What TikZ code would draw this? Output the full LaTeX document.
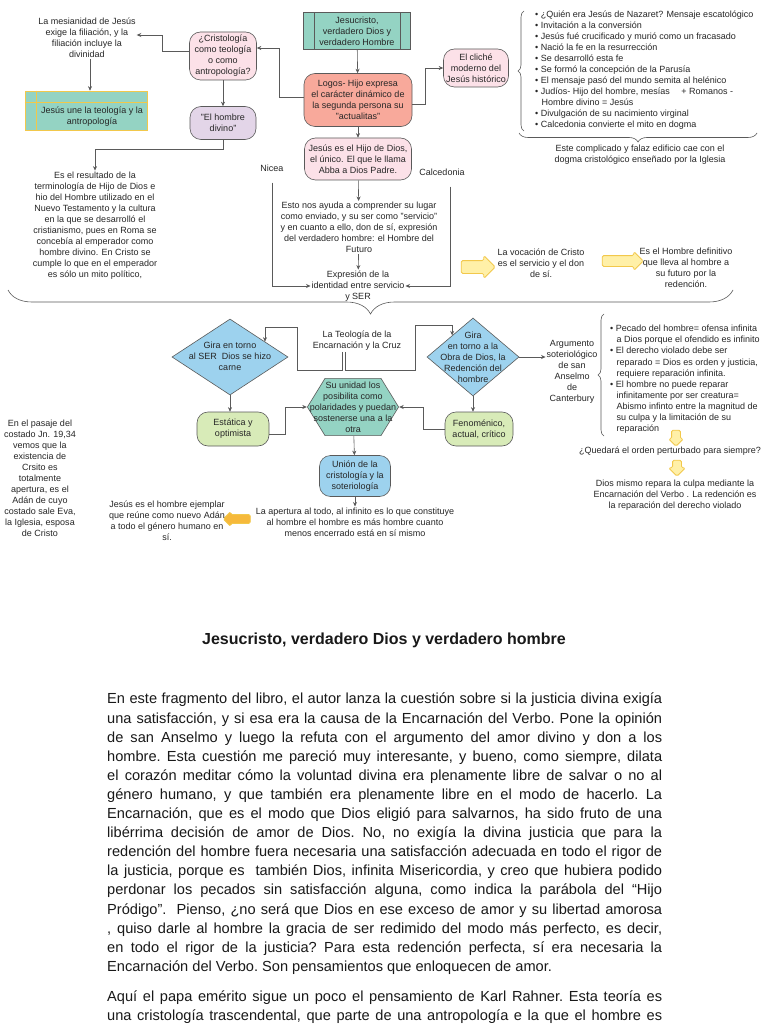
\documentclass[tikz,border=0pt]{standalone}
\usepackage{fontspec}
\setmainfont{Liberation Sans}
\usetikzlibrary{positioning,calc,shapes.geometric,shapes.arrows,arrows.meta,decorations.pathreplacing}

\definecolor{tealbox}{HTML}{94D3C3}
\definecolor{pinkbox}{HTML}{FCE1E8}
\definecolor{salmonbox}{HTML}{F8A99B}
\definecolor{lilacbox}{HTML}{E3D5E8}
\definecolor{bluebox}{HTML}{9DD2EE}
\definecolor{greenbox}{HTML}{D8EBB8}
\definecolor{yelfill}{HTML}{FFF0A8}
\definecolor{yeldraw}{HTML}{F2C84B}
\definecolor{orfill}{HTML}{F6B93B}
\definecolor{linegray}{HTML}{5A5A5A}

\tikzset{
  box/.style={draw=linegray, line width=0.6pt, align=center, inner sep=1pt},
  roundbox/.style={box, rounded corners=11pt},
  txt/.style={align=center, inner sep=1pt},
  conn/.style={draw=linegray, line width=0.6pt, -{Stealth[length=4.5pt,width=4pt]}},
  yarrow/.style={single arrow, draw=yeldraw, fill=yelfill, line width=0.8pt,
    rounded corners=1.5pt},
  bracedraw/.style={draw=linegray, line width=0.6pt, decorate},
  hexbox/.style={align=center, inner sep=0pt, fill=white,
    path picture={\draw[linegray, line width=0.6pt, fill=tealbox]
      ([xshift=0.4pt]path picture bounding box.west)
      -- ([xshift=18pt,yshift=-0.4pt]path picture bounding box.north west)
      -- ([xshift=-18pt,yshift=-0.4pt]path picture bounding box.north east)
      -- ([xshift=-0.4pt]path picture bounding box.east)
      -- ([xshift=-18pt,yshift=0.4pt]path picture bounding box.south east)
      -- ([xshift=18pt,yshift=0.4pt]path picture bounding box.south west) -- cycle;}}
}

\newcommand\jl[1]{\hbox to 555pt{#1}}
\newcommand\bul{\textbullet\ }
\newcommand\cont{\hspace*{6.3pt}}

\begin{document}
\begin{tikzpicture}[x=1pt, y=1pt, every node/.style={font=\fontsize{9}{11}\selectfont, text=black!85}]
\useasboundingbox[fill=white] (0,0) rectangle (768,-1024);

% upper map
\node[box, fill=tealbox, minimum width=107pt, minimum height=37pt] (jc) at (357,-31) {Jesucristo,\\verdadero Dios y\\verdadero Hombre};
\draw[linegray, line width=0.6pt] ([xshift=11pt]jc.north west) -- ([xshift=11pt]jc.south west)
  ([xshift=-11pt]jc.north east) -- ([xshift=-11pt]jc.south east);
\node[roundbox, fill=salmonbox, minimum width=108pt, minimum height=53pt] (logos) at (358,-100) {Logos- Hijo expresa\\el carácter dinámico de\\la segunda persona su\\"actualitas"};
\node[roundbox, fill=pinkbox, minimum width=107pt, minimum height=42pt] (hijo) at (358,-159) {Jesús es el Hijo de Dios,\\el único. El que le llama\\Abba a Dios Padre.};
\node[roundbox, fill=pinkbox, minimum width=65pt, minimum height=38pt] (cliche) at (476,-68) {El cliché\\moderno del\\Jesús histórico};
\node[roundbox, fill=pinkbox, minimum width=67pt, minimum height=48pt] (cristo) at (223,-56) {¿Cristología\\como teología\\o como\\antropología?};
\node[roundbox, fill=lilacbox, minimum width=66pt, minimum height=33pt] (divino) at (223,-123) {"El hombre\\divino"};
\node[txt] (mesian) at (87,-38) {La mesianidad de Jesús\\exige la filiación, y la\\filiación incluye la\\divinidad};
\node[box, draw=yeldraw, fill=tealbox, minimum width=122pt, minimum height=39pt] (une) at (86,-110.5) {};
\draw[yeldraw, line width=0.6pt] ([yshift=-12pt]une.north west) -- ([yshift=-12pt]une.north east)
  ([xshift=12pt]une.north west) -- ([xshift=12pt]une.south west);
\node[txt] (une-t) at (92,-116.5) {Jesús une la teología y la\\antropología};
\node[txt] (result) at (95,-225.5) {Es el resultado de la\\terminología de Hijo de Dios e\\hio del Hombre utilizado en el\\Nuevo Testamento y la cultura\\en la que se desarrolló el\\cristianismo, pues en Roma se\\concebía al emperador como\\hombre divino. En Cristo se\\cumple lo que en el emperador\\es sólo un mito político,};
\node[txt] (nicea) at (272,-168) {Nicea};
\node[txt] (calc) at (442,-172) {Calcedonia};
\node[txt] (esto) at (359,-227.5) {Esto nos ayuda a comprender su lugar\\como enviado, y su ser como "servicio"\\y en cuanto a ello, don de sí, expresión\\del verdadero hombre: el Hombre del\\Futuro};
\node[txt] (expr) at (358,-286) {Expresión de la\\identidad entre servicio\\y SER};

\draw[conn] (jc) -- (logos);
\draw[conn] (logos) -- (hijo);
\draw[conn] ([yshift=-4pt]logos.east) -- ++(13,0) |- (cliche.west);
\draw[conn] ([yshift=3pt]logos.west) -- ++(-24,0) |- ([yshift=8pt]cristo.east);
\draw[conn] ([yshift=5pt]cristo.west) -- ++(-27,0) |- ([yshift=3pt]mesian.east);
\draw[conn] ([xshift=3pt]mesian.south) -- ([xshift=3pt]mesian.south |- une.north);
\draw[conn] (cristo) -- (divino);
\draw[conn] (divino.south) -- ++(0,-10) -| (result.north);
\draw[conn] (hijo) -- (esto);
\draw[conn] (esto) -- (expr);
\draw[conn] ([yshift=-10pt]nicea.south) |- (expr.west);
\draw[conn] ([xshift=8pt,yshift=-10pt]calc.south) |- (expr.east);

% list on the right
\node[anchor=north west, align=left, inner sep=0pt, font=\fontsize{9}{11}\selectfont] (lista) at (535,-11) {\bul ¿Quién era Jesús de Nazaret? Mensaje escatológico\\\bul Invitación a la conversión\\\bul Jesús fué crucificado y murió como un fracasado\\\bul Nació la fe en la resurrección\\\bul Se desarrolló esta fe\\\bul Se formó la concepción de la Parusía\\\bul El mensaje pasó del mundo semita al helénico\\\bul Judíos- Hijo del hombre, mesías \quad + Romanos -\\\cont Hombre divino = Jesús\\\bul Divulgación de su nacimiento virginal\\\bul Calcedonia convierte el mito en dogma};
\draw[bracedraw, decoration={brace, amplitude=6pt}] (524,-131) -- (524,-11);
\draw[bracedraw, decoration={brace, amplitude=9pt}] (757,-133) -- (519,-133);
\node[txt] (falaz) at (640,-155) {Este complicado y falaz edificio cae con el\\dogma cristológico enseñado por la Iglesia};

% middle band
\node[yarrow, minimum height=34pt, inner sep=6pt, single arrow head extend=5pt] (ya1) at (475,-267) {};
\node[txt] (voc) at (541,-263) {La vocación de Cristo\\es el servicio y el don\\de sí.};
\node[yarrow, minimum height=41pt, inner sep=5pt, single arrow head extend=4pt] (ya2) at (620,-261) {};
\node[txt] (defin) at (686,-267.5) {Es el Hombre definitivo\\que lleva al hombre a\\su futuro por la\\redención.};
\draw[bracedraw, decoration={brace, amplitude=24pt}] (733,-290) -- (8,-290);

% lower map
\node[txt] (teocruz) at (357,-341) {La Teología de la\\Encarnación y la Cruz};
\node[diamond, draw=linegray, line width=0.6pt, fill=bluebox, minimum width=116pt, minimum height=76pt, inner sep=0pt] (sera) at (230,-357) {};
\node[txt] (sera-t) at (230,-356) {Gira en torno\\al SER \ Dios se hizo\\carne};
\node[diamond, draw=linegray, line width=0.6pt, fill=bluebox, minimum width=92pt, minimum height=78pt, inner sep=0pt] (obra) at (473,-357) {};
\node[txt] (obra-t) at (473,-357) {Gira\\en torno a la\\Obra de Dios, la\\Redención del\\hombre};
\coordinate (sera-in) at ($(sera.north)!0.6!(sera.east)$);
\coordinate (obra-in) at ($(obra.north)!0.45!(obra.west)$);
\draw[conn] ([xshift=-15pt]teocruz.south) |- (297,-370) |- (sera-in |- 0,-327) -- (sera-in);
\draw[conn] ([xshift=-12pt]teocruz.south) |- (415,-370) |- (obra-in |- 0,-325) -- (obra-in);

\node[txt] (argum) at (572,-372) {Argumento\\soteriológico\\de san\\Anselmo\\de\\Canterbury};
\draw[conn] (obra.east) -- (obra.east -| argum.west);
\draw[bracedraw, decoration={brace, amplitude=6pt}] (604,-436) -- (604,-314);
\node[anchor=north west, align=left, inner sep=0pt, font=\fontsize{9}{11.1}\selectfont] (lista2) at (610,-325) {\bul Pecado del hombre= ofensa infinita\\\cont a Dios porque el ofendido es infinito\\\bul El derecho violado debe ser\\\cont reparado = Dios es orden y justicia,\\\cont requiere reparación infinita.\\\bul El hombre no puede reparar\\\cont infinitamente por ser creatura=\\\cont Abismo infinto entre la magnitud de\\\cont su culpa y la limitación de su\\\cont reparación};
\node[yarrow, shape border rotate=270, minimum height=16pt, inner sep=4pt, single arrow head extend=3pt] (yd1) at (676,-436) {};
\node[txt] (quedara) at (670,-451) {¿Quedará el orden perturbado para siempre?};
\node[yarrow, shape border rotate=270, minimum height=16pt, inner sep=4pt, single arrow head extend=4pt] (yd2) at (677,-466) {};
\node[txt] (diosm) at (675,-495) {Dios mismo repara la culpa mediante la\\Encarnación del Verbo . La redención es\\la reparación del derecho violado};

\node[hexbox, minimum width=92pt, minimum height=58pt] (unidad) at (353,-407) {Su unidad los\\posibilita como\\polaridades y puedan\\sostenerse una a la\\otra};
\node[roundbox, fill=greenbox, minimum width=72pt, minimum height=34pt] (estat) at (233,-429) {Estática y\\optimista};
\node[roundbox, fill=greenbox, minimum width=68pt, minimum height=34pt] (fenom) at (479,-429) {Fenoménico,\\actual, crítico};
\node[roundbox, fill=bluebox, minimum width=71pt, minimum height=41pt] (union) at (355,-476) {Unión de la\\cristología y la\\soteriología};
\node[txt] (apert) at (355,-522) {La apertura al todo, al infinito es lo que constituye\\al hombre el hombre es más hombre cuanto\\menos encerrado está en sí mismo};
\node[yarrow, shape border rotate=180, fill=orfill, minimum height=27pt, inner sep=4pt, single arrow head extend=3pt] (yleft) at (239,-519) {};
\node[txt] (ejempl) at (167,-520.5) {Jesús es el hombre ejemplar\\que reúne como nuevo Adán\\a todo el género humano en\\sí.};
\node[txt] (pasaje) at (40,-478.5) {En el pasaje del\\costado Jn. 19,34\\vemos que la\\existencia de\\Crsito es\\totalmente\\apertura, es el\\Adán de cuyo\\costado sale Eva,\\la Iglesia, esposa\\de Cristo};

\draw[conn] (sera.south) -- (sera.south |- estat.north);
\draw[conn] (obra.south) -- (obra.south |- fenom.north);
\draw[conn] ([yshift=-5pt]estat.east) -- ++(16,0) |- (unidad.west);
\draw[conn] (fenom.west) -- ++(-21,0) |- (unidad.east);
\draw[conn] (unidad) -- (union);
\draw[conn] (union) -- (apert);

% page text
\node[font=\fontsize{16}{19}\selectfont\bfseries, text=black!90] (titulo) at (384,-640) {Jesucristo, verdadero Dios y verdadero hombre};
\node[anchor=north west, inner sep=0pt, font=\fontsize{14.6}{19.1}\selectfont\frenchspacing, text=black!90] (parr) at (107,-693) {\vbox{\baselineskip=19.1pt
\jl{En este fragmento del libro, el autor lanza la cuestión sobre si la justicia divina exigía}
\jl{una satisfacción, y si esa era la causa de la Encarnación del Verbo. Pone la opinión}
\jl{de san Anselmo y luego la refuta con el argumento del amor divino y don a los}
\jl{hombre. Esta cuestión me pareció muy interesante, y bueno, como siempre, dilata}
\jl{el corazón meditar cómo la voluntad divina era plenamente libre de salvar o no al}
\jl{género humano, y que también era plenamente libre en el modo de hacerlo. La}
\jl{Encarnación, que es el modo que Dios eligió para salvarnos, ha sido fruto de una}
\jl{libérrima decisión de amor de Dios. No, no exigía la divina justicia que para la}
\jl{redención del hombre fuera necesaria una satisfacción adecuada en todo el rigor de}
\jl{la justicia, porque es \ también Dios, infinita Misericordia, y creo que hubiera podido}
\jl{perdonar los pecados sin satisfacción alguna, como indica la parábola del “Hijo}
\jl{Pródigo”. \ Pienso, ¿no será que Dios en ese exceso de amor y su libertad amorosa}
\jl{, quiso darle al hombre la gracia de ser redimido del modo más perfecto, es decir,}
\jl{en todo el rigor de la justicia? Para esta redención perfecta, sí era necesaria la}
\hbox{Encarnación del Verbo. Son pensamientos que enloquecen de amor.}
\vskip 11pt
\jl{Aquí el papa emérito sigue un poco el pensamiento de Karl Rahner. Esta teoría es}
\jl{una cristología trascendental, que parte de una antropología e la que el hombre es}
}};
\end{tikzpicture}
\end{document}
